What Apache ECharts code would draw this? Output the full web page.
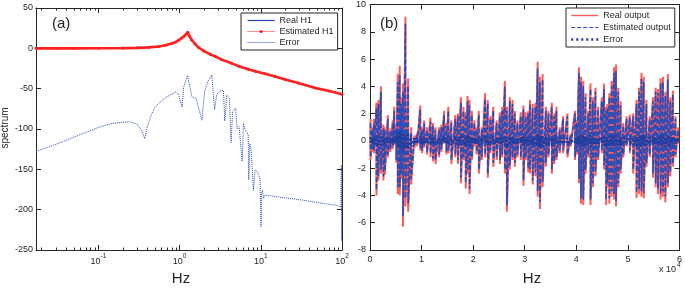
<!DOCTYPE html>
<html>
<head>
<meta charset="utf-8">
<script src="https://cdn.jsdelivr.net/npm/echarts@6/dist/echarts.min.js"></script>
<style>
html, body { margin: 0; padding: 0; background: #fff; }
#chart { width: 685px; height: 289px; }
</style>
</head>
<body>
<div id="chart"></div>
<script>
// (a) frequency response, log Hz axis
var h1Freq = [0.017, 0.03, 0.05, 0.1, 0.2, 0.3, 0.42, 0.55, 0.67, 0.8, 0.9, 0.97, 1.05, 1.12, 1.2, 1.26, 1.32, 1.42, 1.55, 1.71,
    2.0, 2.4, 2.74, 3.3, 4.38, 5.5, 7.0, 8.5, 11.3, 15, 20, 28.9, 46, 70, 100];
var h1Db = [0, 0, 0, 0.1, 0.3, 0.6, 1.2, 2.2, 3.8, 6, 8, 10, 12.5, 14.5, 17.5, 20, 15, 10, 5.5, 1,
    -3.5, -7.5, -10, -14, -18.6, -22.5, -26, -28.5, -31.5, -35, -38.5, -43, -49, -53, -57];
var errFreq = [0.017, 0.03, 0.05, 0.1, 0.15, 0.24, 0.3, 0.34, 0.372, 0.4, 0.45, 0.5, 0.67, 0.9, 0.97, 1.07, 1.12, 1.25, 1.42, 1.59,
    1.68, 1.88, 2.03, 2.23, 2.49, 2.6, 2.69, 2.87, 3.16, 3.46, 3.6, 3.8, 4.1, 4.3, 4.5, 4.9, 5.1, 5.4, 5.9, 6.1,
    6.4, 7, 7.1, 7.3, 7.6, 8.1, 8.5, 9.1, 9.8, 10.05, 10.2, 10.5, 10.8, 11.3, 13.5, 31.6, 89, 97, 98, 99, 100];
var errDb = [-128, -119, -110, -98, -93, -91, -94, -102, -112, -97, -82, -72, -61, -54, -57, -73, -48, -34, -60, -62,
    -60, -89, -54, -41, -33, -57, -76, -57, -53, -52, -90, -58, -62, -117, -78, -74, -100, -97, -140, -93,
    -101, -107, -163, -118, -126, -176, -151, -153, -163, -221, -180, -176, -186, -182, -183, -188, -195, -197, -145, -238, -170];
var majorTicksA = [0.1, 1, 10, 100];
var minorTicksA = [0.02, 0.03, 0.04, 0.05, 0.06, 0.07, 0.08, 0.09, 0.2, 0.3, 0.4, 0.5, 0.6, 0.7, 0.8, 0.9,
    2, 3, 4, 5, 6, 7, 8, 9, 20, 30, 40, 50, 60, 70, 80, 90];

// (b) output signal: one vertical swing per spike
var outX = [100, 480, 770, 1250, 1630, 2120, 2600, 2880, 3460, 3940, 4420, 4710, 5100, 5380, 5770, 6060, 6400, 6870, 7400, 7980,
    8600, 9130, 9750, 10100, 10520, 11060, 11730, 12210, 12690, 13400, 13850, 14370,
    14810, 15190, 15770, 16540, 17060, 17630, 18130, 18560, 18900, 19290, 19750, 20250, 20670, 21100, 21670, 22310, 22830, 23330,
    23900, 24560, 25190, 25630, 26150, 26540, 27110, 27630, 28080, 28590, 29230, 29750,
    30190, 30670, 31020, 31540, 32060, 32500, 32940, 33460, 34100, 34610, 35250, 35710, 36150, 36790, 37440, 38270, 38900, 39750,
    40100, 40520, 40900, 41340, 41790, 42310, 42750, 43210, 43710, 44230,
    44940, 45380, 45770, 46020, 46400, 46860, 47310, 47690, 48130, 48590, 49100, 49750, 50380, 51020, 51670, 52170, 52630, 53070,
    53590, 54230, 54860, 55380, 55830, 56340, 56790, 57250, 57750, 58210, 58720, 59230, 59750];
var outTop = [1.6, 1.0, 1.6, 2.8, 3.0, 4.0, 1.2, 1.0, 1.9, 0.9, 1.5, 2.5, 1.2, 4.9, 5.5, 3.2, 4.2, 9.1, 4.6, 1.0,
    0.4, 0.6, 2.6, 1.0, 1.5, 1.0, 1.7, 1.3, 1.0, 1.0, 1.2, 2.2,
    1.3, 2.5, 1.5, 1.9, 2.0, 3.2, 2.5, 2.1, 3.3, 3.0, 2.2, 1.5, 1.0, 2.2, 1.0, 3.5, 3.0, 1.8, 2.5, 1.5,
    2.1, 2.5, 4.4, 2.5, 3.2, 3.0, 2.2, 1.5, 2.1, 2.6,
    2.1, 2.2, 3.0, 2.7, 2.8, 5.8, 4.7, 4.9, 2.5, 2.2, 2.8, 2.0, 2.5, 1.0, 1.8, 2.0, 0.5, 2.2, 1.5, 5.4,
    4.7, 4.4, 3.5, 2.2, 4.2, 3.2, 3.9, 2.5,
    3.2, 4.2, 2.5, 2.7, 3.5, 4.4, 5.4, 5.6, 3.9, 2.9, 1.3, 1.8, 1.9, 2.0, 3.0, 3.9, 5.0, 4.7, 3.0, 1.8,
    3.2, 3.9, 3.8, 4.6, 4.7, 3.6, 4.9, 3.2, 3.7, 1.8, 1.0];
var outBottom = [-1.4, -0.8, -0.9, -4.0, -2.9, -2.4, -2.9, -2.5, -1.2, -0.8, -0.6, -0.3, -1.6, -3.9, -4.0, -2.8, -6.3, -4.8, -5.2, -3.2,
    -0.5, -0.4, -0.7, -0.9, -0.5, -1.0, -1.2, -1.5, -1.7, -1.2, -0.8, -0.2,
    -1.0, -0.9, -1.7, -1.2, -1.7, -3.1, -1.4, -3.5, -2.4, -3.9, -1.4, -0.4, -1.0, -2.4, -1.4, -1.2, -2.7, -0.9, -1.9, -1.4,
    -1.7, -1.2, -2.4, -5.2, -2.1, -1.4, -1.9, -1.2, -1.4, -3.3,
    -1.4, -2.3, -2.4, -3.2, -2.6, -4.1, -5.0, -3.4, -1.9, -1.2, -2.4, -1.7, -1.4, -0.9, -0.9, -1.2, -0.4, -1.4, -1.0, -3.1,
    -4.6, -4.7, -2.4, -1.2, -4.7, -3.4, -2.6, -1.4,
    -0.9, -2.1, -4.7, -3.4, -4.6, -4.1, -4.3, -4.8, -3.4, -2.4, -1.2, -0.4, -0.9, -2.4, -4.2, -3.9, -4.1, -4.2, -1.9, -1.2,
    -2.7, -3.4, -3.9, -4.3, -4.1, -4.5, -3.4, -2.6, -1.9, -1.2, -0.2];
var errHi = [0.3, 0.2, 0.3, 0.4, 0.3, 0.4, 0.3, 0.2, 0.3, 0.2, 0.2, 0.3, 0.3, 0.6, 0.7, 0.5, 0.6, 0.5, 0.6, 0.4,
    0.2, 0.2, 0.3, 0.2, 0.2, 0.2, 0.3, 0.2, 0.2, 0.2, 0.2, 0.3,
    0.2, 0.3, 0.2, 0.3, 0.2, 0.4, 0.3, 0.3, 0.4, 0.4, 0.3, 0.2, 0.2, 0.3, 0.2, 0.4, 0.3, 0.2, 0.3, 0.2,
    0.3, 0.3, 0.4, 0.3, 0.3, 0.3, 0.2, 0.2, 0.3, 0.3,
    0.3, 0.2, 0.3, 0.3, 0.3, 0.5, 0.4, 0.4, 0.3, 0.2, 0.3, 0.2, 0.3, 0.2, 0.2, 0.2, 0.1, 0.2, 0.2, 0.4,
    0.4, 0.4, 0.3, 0.2, 0.4, 0.3, 0.3, 0.2,
    0.3, 0.4, 0.3, 0.3, 0.3, 0.4, 0.4, 0.5, 0.3, 0.3, 0.2, 0.2, 0.2, 0.2, 0.3, 0.3, 0.4, 0.4, 0.3, 0.2,
    0.3, 0.3, 0.3, 0.4, 0.4, 0.3, 0.4, 0.3, 0.3, 0.2, 0.2];
var errLo = [-0.2, -0.2, -0.2, -0.4, -0.3, -0.3, -0.3, -0.3, -0.2, -0.2, -0.2, -0.2, -0.2, -0.5, -0.6, -0.4, -0.8, -0.6, -0.6, -0.4,
    -0.2, -0.2, -0.2, -0.2, -0.2, -0.2, -0.3, -0.2, -0.3, -0.2, -0.2, -0.2,
    -0.2, -0.2, -0.3, -0.2, -0.3, -0.4, -0.2, -0.4, -0.3, -0.4, -0.2, -0.2, -0.2, -0.3, -0.2, -0.2, -0.3, -0.2, -0.3, -0.2,
    -0.3, -0.2, -0.3, -0.5, -0.3, -0.2, -0.3, -0.2, -0.2, -0.4,
    -0.2, -0.3, -0.3, -0.3, -0.3, -0.4, -0.5, -0.4, -0.3, -0.2, -0.3, -0.2, -0.2, -0.2, -0.2, -0.2, -0.1, -0.2, -0.2, -0.3,
    -0.4, -0.4, -0.3, -0.2, -0.4, -0.3, -0.3, -0.2,
    -0.2, -0.3, -0.4, -0.3, -0.4, -0.4, -0.4, -0.4, -0.3, -0.3, -0.2, -0.1, -0.2, -0.3, -0.4, -0.4, -0.4, -0.4, -0.3, -0.2,
    -0.3, -0.3, -0.4, -0.4, -0.4, -0.4, -0.3, -0.3, -0.2, -0.2, -0.1];
var outTicks = [0, 1, 2, 3, 4, 5, 6];

var FONT = 'Liberation Sans';
var INK = '#262626';
var RED_A = '#ff2020', BLUE_A = '#2341b0', BLUE_ERR_A = '#2b50c2';
var RED_B = '#ff5c5c', BLUE_B = '#2b4db8', BLUE_ERR_B = '#1f3c9e';

function pairs(xs, ys) {
    return xs.map(function (x, i) { return [x, ys[i]]; });
}
// each spike: top then bottom at the same x
function swings(hi, lo) {
    var d = [];
    outX.forEach(function (x, i) {
        d.push([x, hi[i]]);
        d.push([x, lo[i]]);
    });
    return d;
}
var realOut = swings(outTop, outBottom);
var errOut = swings(errHi, errLo);
var estOut = swings(
    outTop.map(function (v, i) { return v - errHi[i]; }),
    outBottom.map(function (v, i) { return v - errLo[i]; })
);

var chart = echarts.init(document.getElementById('chart'));

function frame(extra) {
    var base = {
        axisLine: { show: true, onZero: false, lineStyle: { color: INK, width: 1 } },
        axisTick: { show: true, inside: true, length: 5, lineStyle: { color: INK } },
        axisLabel: { show: false, color: INK, fontFamily: FONT, fontSize: 9 },
        splitLine: { show: false }
    };
    return echarts.util.merge(base, extra, true);
}

var logLabel = {
    show: true, margin: 3,
    customValues: majorTicksA,
    formatter: function (v) {
        return '{b|10}{s|' + Math.round(Math.log10(v)) + '}';
    },
    rich: {
        b: { fontFamily: FONT, fontSize: 9, color: INK, verticalAlign: 'bottom' },
        s: { fontFamily: FONT, fontSize: 6.5, color: INK, verticalAlign: 'top', padding: [0, 0, 6, 0] }
    }
};

var noMark = { opacity: 0 };
var legendBase = {
    orient: 'vertical', itemWidth: 27, itemHeight: 4,
    borderColor: INK, borderWidth: 1, backgroundColor: '#fff',
    textStyle: { fontFamily: FONT, fontSize: 9, color: INK }
};

var option = {
    backgroundColor: '#fff',
    animation: false,
    textStyle: { fontFamily: FONT },
    grid: [
        { left: 36, top: 8, width: 306, height: 242 },
        { left: 370, top: 4, width: 312, height: 246 }
    ],
    xAxis: [
        frame({ gridIndex: 0, type: 'log', min: 0.017, max: 100, position: 'bottom',
            axisTick: { customValues: majorTicksA }, axisLabel: logLabel }),
        frame({ gridIndex: 0, type: 'log', min: 0.017, max: 100, position: 'bottom',
            axisLine: { show: false }, axisTick: { customValues: minorTicksA, length: 2.5 } }),
        frame({ gridIndex: 0, type: 'log', min: 0.017, max: 100, position: 'top',
            axisTick: { customValues: majorTicksA } }),
        frame({ gridIndex: 0, type: 'log', min: 0.017, max: 100, position: 'top',
            axisLine: { show: false }, axisTick: { customValues: minorTicksA, length: 2.5 } }),
        frame({ gridIndex: 1, type: 'value', min: 0, max: 60000, interval: 10000, position: 'bottom',
            axisLabel: { show: true, margin: 5, formatter: function (v) { return outTicks[Math.round(v / 10000)]; } } }),
        frame({ gridIndex: 1, type: 'value', min: 0, max: 60000, interval: 10000, position: 'top' })
    ],
    yAxis: [
        frame({ gridIndex: 0, type: 'value', min: -250, max: 50, interval: 50, position: 'left',
            axisLabel: { show: true, margin: 3 } }),
        frame({ gridIndex: 0, type: 'value', min: -250, max: 50, interval: 50, position: 'right' }),
        frame({ gridIndex: 1, type: 'value', min: -8, max: 10, interval: 2, position: 'left',
            axisLabel: { show: true, margin: 4 } }),
        frame({ gridIndex: 1, type: 'value', min: -8, max: 10, interval: 2, position: 'right' })
    ],
    legend: [
        echarts.util.extend({
            left: 241, top: 13, padding: [3, 4, 3, 6], itemGap: 2,
            data: [
                { name: 'Real H1', itemStyle: noMark, lineStyle: { color: BLUE_A, width: 1.2 } },
                { name: 'Estimated H1', itemStyle: { color: RED_A }, lineStyle: { color: RED_A, type: 'dotted', width: 1 } },
                { name: 'Error', itemStyle: noMark, lineStyle: { color: BLUE_ERR_A, type: 'dotted', width: 1 } }
            ]
        }, legendBase),
        echarts.util.extend({
            left: 566, top: 8, padding: [3, 4, 3, 4], itemGap: 3,
            data: [
                { name: 'Real output', itemStyle: noMark, lineStyle: { color: RED_B, width: 1.4 } },
                { name: 'Estimated output', itemStyle: noMark, lineStyle: { color: BLUE_B, type: [4, 2], width: 1.2 } },
                { name: 'Error', itemStyle: noMark, lineStyle: { color: BLUE_ERR_B, type: [2, 3], width: 2.5 } }
            ]
        }, legendBase)
    ],
    graphic: [
        { type: 'text', left: 52, top: 16, style: { text: '(a)', font: '15px ' + FONT, fill: INK } },
        { type: 'text', left: 380, top: 16, style: { text: '(b)', font: '15px ' + FONT, fill: INK } },
        { type: 'text', x: 181, y: 279, style: { text: 'Hz', font: '15px ' + FONT, fill: INK, align: 'center', verticalAlign: 'middle' } },
        { type: 'text', x: 532, y: 279, style: { text: 'Hz', font: '15px ' + FONT, fill: INK, align: 'center', verticalAlign: 'middle' } },
        { type: 'text', x: 5, y: 128, rotation: Math.PI / 2,
            style: { text: 'spectrum', font: '10px ' + FONT, fill: INK, align: 'center', verticalAlign: 'middle' } },
        { type: 'text', x: 659, y: 270, style: { text: 'x 10', font: '9px ' + FONT, fill: INK, verticalAlign: 'middle' } },
        { type: 'text', x: 677, y: 265, style: { text: '4', font: '6.5px ' + FONT, fill: INK, verticalAlign: 'middle' } }
    ],
    series: [
        {
            name: 'Real H1', type: 'line', xAxisIndex: 0, yAxisIndex: 0,
            data: pairs(h1Freq, h1Db), symbol: 'none',
            lineStyle: { color: BLUE_A, width: 1.2 }, itemStyle: { color: BLUE_A }
        },
        {
            name: 'Estimated H1', type: 'line', xAxisIndex: 0, yAxisIndex: 0,
            data: pairs(h1Freq, h1Db), symbol: 'circle', symbolSize: 3,
            lineStyle: { color: RED_A, width: 2.6 }, itemStyle: { color: RED_A }
        },
        {
            name: 'Error', type: 'line', xAxisIndex: 0, yAxisIndex: 0,
            data: pairs(errFreq, errDb), symbol: 'none',
            lineStyle: { color: BLUE_ERR_A, width: 1, type: 'dotted' }, itemStyle: { color: BLUE_ERR_A }
        },
        {
            name: 'Real output', type: 'line', xAxisIndex: 4, yAxisIndex: 2,
            data: realOut, symbol: 'none',
            lineStyle: { color: RED_B, width: 2 }, itemStyle: { color: RED_B }
        },
        {
            name: 'Estimated output', type: 'line', xAxisIndex: 4, yAxisIndex: 2,
            data: estOut, symbol: 'none',
            lineStyle: { color: BLUE_B, width: 1.7, type: [5, 2] }, itemStyle: { color: BLUE_B }
        },
        {
            name: 'Error', type: 'line', xAxisIndex: 4, yAxisIndex: 2,
            data: errOut, symbol: 'none',
            lineStyle: { color: BLUE_ERR_B, width: 2.5, type: [2, 2] }, itemStyle: { color: BLUE_ERR_B }
        }
    ]
};
chart.setOption(option);
</script>
</body>
</html>
